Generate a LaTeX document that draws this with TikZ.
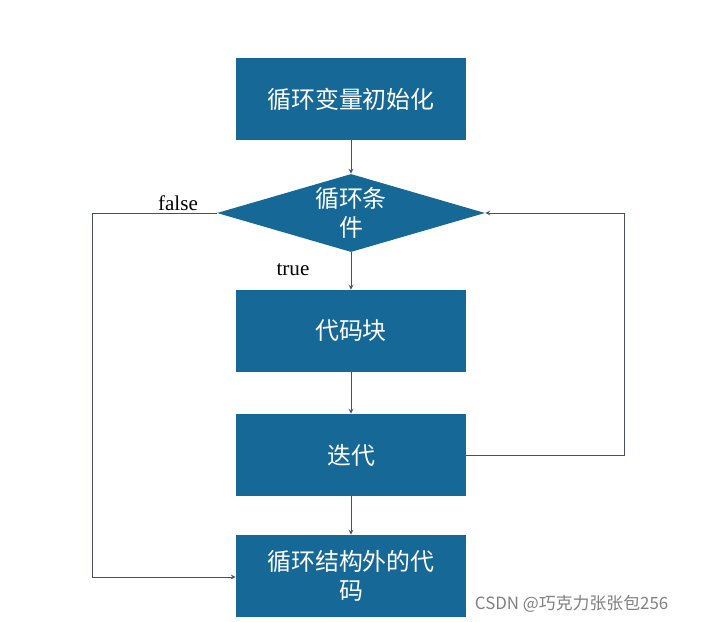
\documentclass[tikz,border=0pt]{standalone}
\usepackage{fontspec}
\setmainfont{Liberation Serif}
\newfontfamily\cjk{Noto Sans CJK SC}
\usetikzlibrary{shapes.geometric}
\definecolor{boxblue}{RGB}{22,104,150}
\definecolor{linegray}{RGB}{70,80,100}
\begin{document}
\begin{tikzpicture}[x=0.025cm, y=-0.025cm]
  \tikzstyle{box}=[rectangle, fill=boxblue, text=white, font=\cjk\fontsize{17}{21}\selectfont,
                   minimum width=230*0.025cm, minimum height=82*0.025cm, inner sep=0pt, align=center]
  \tikzstyle{cond}=[diamond, fill=boxblue, text=white, font=\cjk\fontsize{17}{21}\selectfont,
                    minimum width=268*0.025cm, minimum height=78*0.025cm, inner sep=0pt, aspect=3.4, align=center]
  \tikzstyle{flow}=[draw=linegray, line width=0.6pt, -stealth]
  \tikzstyle{lbl}=[font=\fontsize{15}{18}\selectfont]

  \useasboundingbox (0,0) rectangle (712,622);

  \node[box]  (init) at (351, 99)  {循环变量初始化};
  \node[cond] (test) at (351, 213) {循环条\\件};
  \node[box]  (body) at (351, 331) {代码块};
  \node[box]  (step) at (351, 455) {迭代};
  \node[box]  (rest) at (351, 576) {循环结构外的代\\码};

  \coordinate (fl1) at (92, 213);
  \coordinate (fl2) at (92, 577);
  \coordinate (it1) at (624, 455);
  \coordinate (it2) at (624, 213);

  \path[flow] (init) -- (test);
  \path[flow] (test) -- (body);
  \path[flow] (body) -- (step);
  \path[flow] (step) -- (rest);
  \path[flow] (test.west) -- (fl1) -- (fl2) -- (rest.west |- fl2);
  \path[flow] (step.east) -- (it1) -- (it2) -- (test.east);

  \node[lbl] (false) at (178, 203) {false};
  \node[lbl] (true)  at (293, 270) {true};
  \node[font=\cjk\fontsize{12}{14}\selectfont, text=gray, anchor=west] (mark) at (470, 604) {CSDN @巧克力张张包256};
\end{tikzpicture}
\end{document}
